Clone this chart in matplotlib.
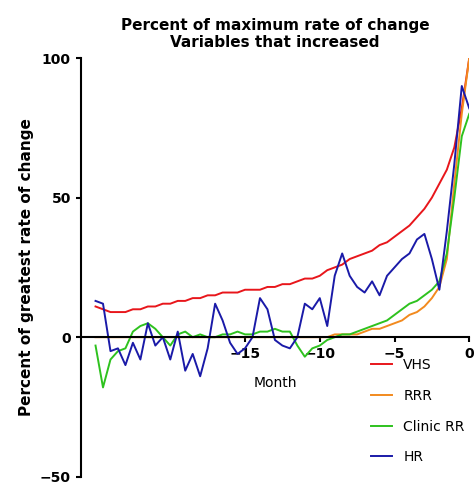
import matplotlib
matplotlib.use("Agg")
import matplotlib.pyplot as plt

months = [-25, -24.5, -24, -23.5, -23, -22.5, -22, -21.5, -21, -20.5, -20, -19.5, -19, -18.5, -18,
          -17.5, -17, -16.5, -16, -15.5, -15, -14.5, -14, -13.5, -13, -12.5, -12, -11.5, -11, -10.5,
          -10, -9.5, -9, -8.5, -8, -7.5, -7, -6.5, -6, -5.5, -5, -4.5, -4, -3.5, -3, -2.5, -2,
          -1.5, -1, -0.5, 0]

vhs = [11, 10, 9, 9, 9, 10, 10, 11, 11, 12, 12, 13, 13, 14, 14, 15, 15, 16, 16, 16, 17, 17, 17, 18,
       18, 19, 19, 20, 21, 21, 22, 24, 25, 26, 28, 29, 30, 31, 33, 34, 36, 38, 40, 43, 46, 50, 55,
       60, 68, 82, 100]
rrr = [0, 0, 0, 0, 0, 0, 0, 0, 0, 0, 0, 0, 0, 0, 0, 0, 0, 0, 0, 0, 0, 0, 0, 0, 0, 0, 0, 0, 0,
       0, 0, 0, 1, 1, 1, 1, 2, 3, 3, 4, 5, 6, 8, 9, 11, 14, 18, 28, 55, 80, 100]
clinic_rr = [-3, -18, -8, -5, -4, 2, 4, 5, 3, 0, -3, 1, 2, 0, 1, 0, 0, 1, 1, 2, 1, 1, 2, 2, 3, 2, 2,
             -3, -7, -4, -3, -1, 0, 1, 1, 2, 3, 4, 5, 6, 8, 10, 12, 13, 15, 17, 20, 30, 50, 72, 80]
hr = [13, 12, -5, -4, -10, -2, -8, 5, -3, 0, -8, 2, -12, -6, -14, -4, 12, 6, -2, -6, -4, 0, 14,
      10, -1, -3, -4, 0, 12, 10, 14, 4, 22, 30, 22, 18, 16, 20, 15, 22, 25, 28, 30, 35, 37, 28,
      17, 38, 62, 90, 82]

fig, ax = plt.subplots(figsize=(4.74, 4.84), dpi=100)
ax.plot(months, vhs, color="#e8161b", lw=1.4, label="VHS")
ax.plot(months, rrr, color="#f28a1e", lw=1.4, label="RRR")
ax.plot(months, clinic_rr, color="#2ec21e", lw=1.4, label="Clinic RR")
ax.plot(months, hr, color="#1a1aa8", lw=1.4, label="HR")

ax.set_xlim(-26, 0)
ax.set_ylim(-50, 100)
ax.set_yticks([-50, 0, 50, 100])
ax.set_xticks([-15, -10, -5, 0])
ax.spines["top"].set_visible(False)
ax.spines["right"].set_visible(False)
ax.spines["bottom"].set_position(("data", 0))
ax.spines["left"].set_linewidth(1.5)
ax.spines["bottom"].set_linewidth(1.5)
ax.tick_params(labelsize=10, width=1.5)
for t in ax.get_yticklabels() + ax.get_xticklabels():
    t.set_fontweight("bold")
ax.set_xlabel("Month", fontsize=10)
ax.xaxis.set_label_coords(0.5, 0.24)
ax.set_ylabel("Percent of greatest rate of change", fontsize=11, fontweight="bold")
ax.set_title("Percent of maximum rate of change\nVariables that increased",
             fontsize=11, fontweight="bold", pad=8)
ax.legend(loc="lower right", frameon=False, fontsize=10, handlelength=1.5,
          labelspacing=1.2, bbox_to_anchor=(1.02, 0.0))
fig.subplots_adjust(left=0.17, right=0.99, top=0.88, bottom=0.015)
fig.savefig("out.png")
